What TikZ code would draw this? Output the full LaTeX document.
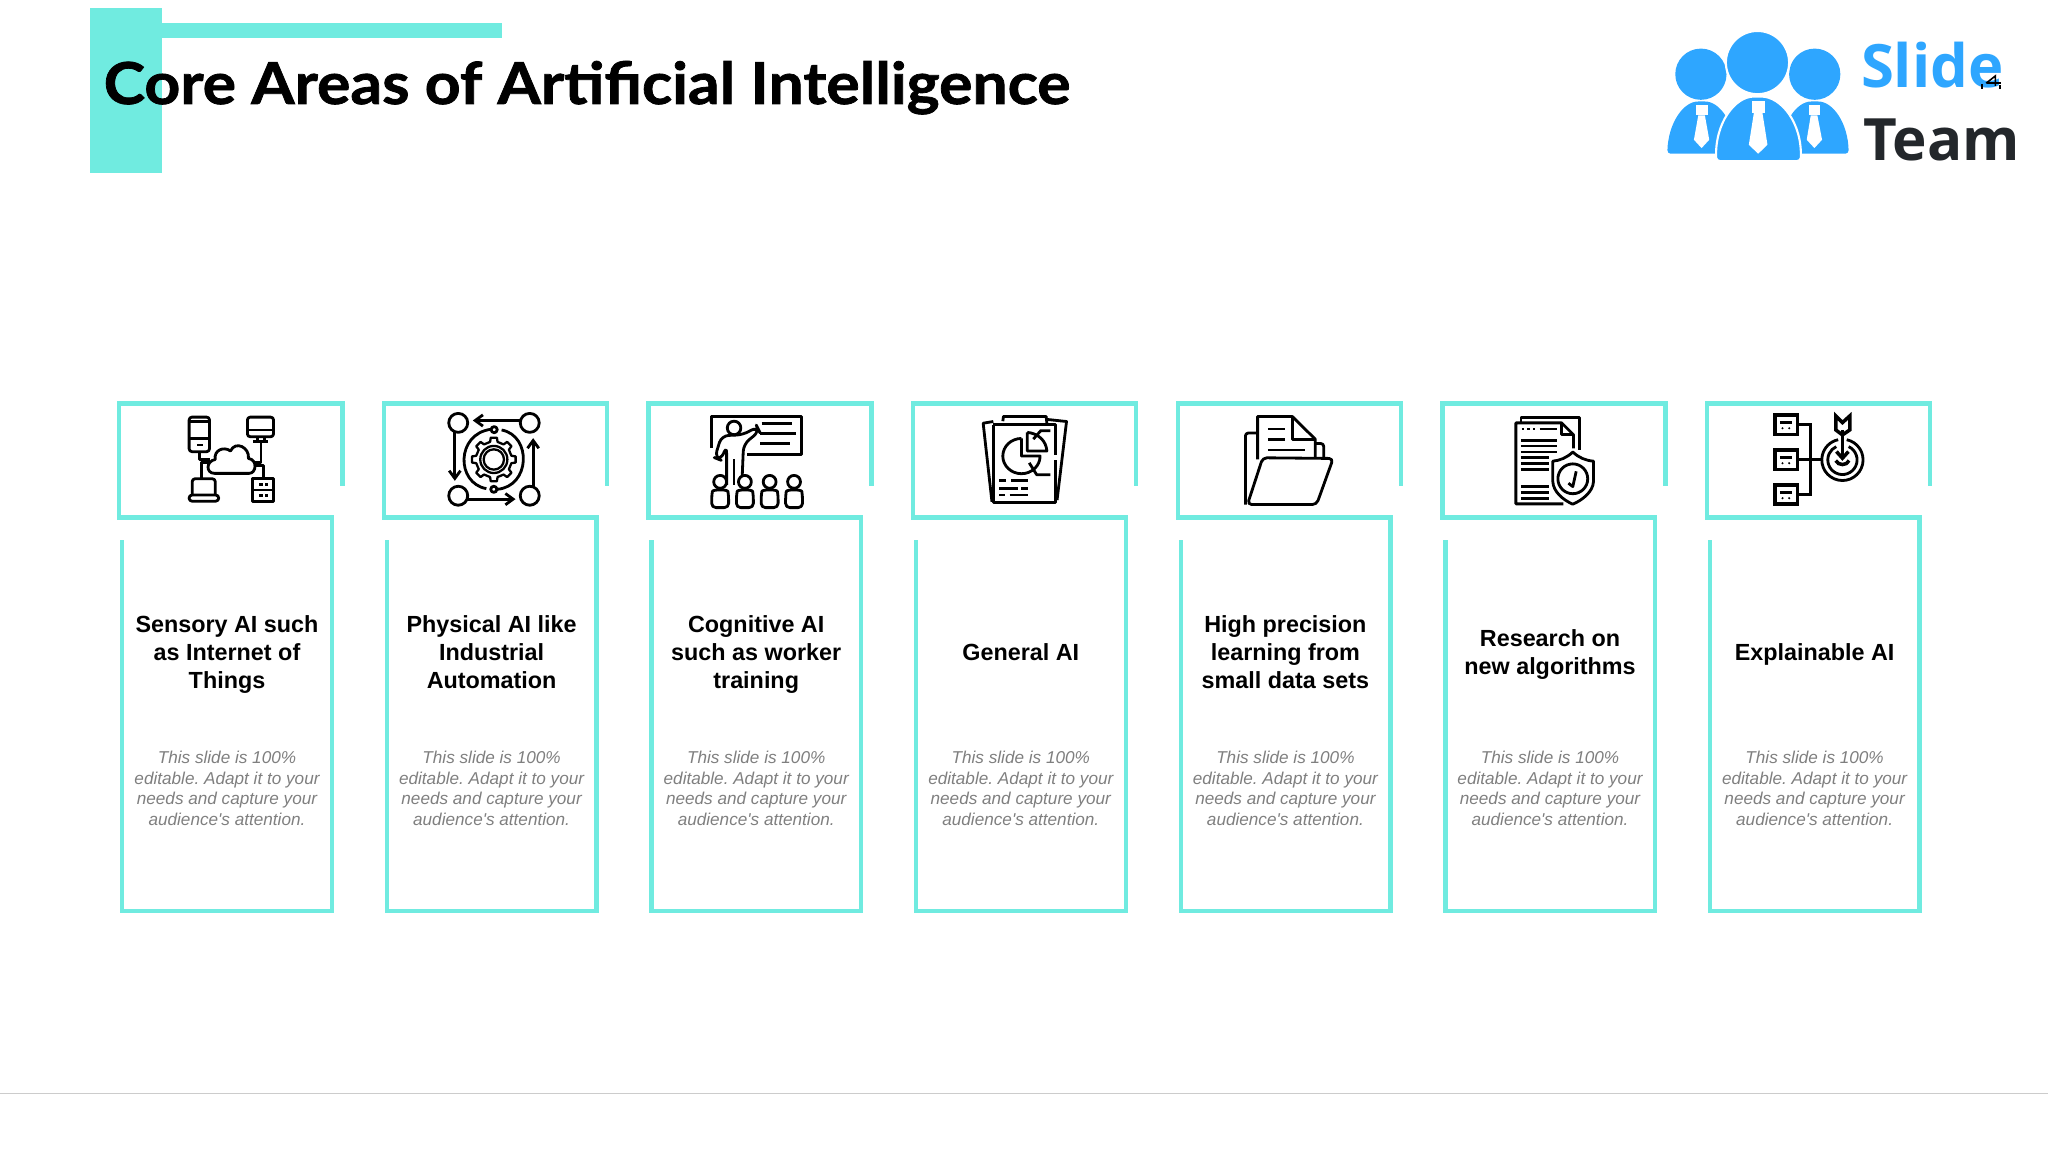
\documentclass[tikz,border=0pt]{standalone}
\usepackage{fontspec}
\usepackage{xcolor}
\usetikzlibrary{calc,arrows.meta,positioning}
\setmainfont{Liberation Sans}
\newfontfamily\bodyfont{Liberation Sans}
\newfontfamily\titlefont{Lato}[BoldFeatures={FakeBold=1.3,FakeStretch=1.08}]
\newfontfamily\logofont{Open Sans}
\definecolor{tealbar}{HTML}{70EBE0}
\definecolor{logoblue}{HTML}{2EA6FF}
\definecolor{logodark}{HTML}{23272B}
\definecolor{bodygrey}{HTML}{7F7F7F}
\tikzset{
  cardframe/.style={draw=tealbar,line width=1.25pt,miter limit=10},
  headtext/.style={align=center,inner sep=0pt,font=\fontsize{6.64}{8.05}\selectfont\bfseries},
  bodytext/.style={align=center,inner sep=0pt,text=bodygrey,font=\bodyfont\fontsize{4.88}{5.88}\selectfont\itshape\frenchspacing},
  iconzone/.style={x=0.00338cm,y=-0.00338cm,line width=0.8pt,line join=round},
  iconfine/.style={x=0.00333cm,y=-0.00333cm,line width=0.8pt,line join=miter},
  barb/.style={-{Straight Barb[length=2.2pt,width=3.2pt,line width=0.8pt]}}
}
\begin{document}
\begin{tikzpicture}[x=0.01cm,y=-0.01cm]
\useasboundingbox (0,0) rectangle (2048,1152);
% header
\fill[tealbar] (90,8) rectangle (162,173);
\fill[tealbar] (162,23) rectangle (502,38);
\node[anchor=base west,inner sep=0pt,font=\titlefont\fontsize{16.45}{18}\selectfont\bfseries] (title) at (103,104) {Core Areas of Artificial Intelligence};
\draw[black!20,line width=0.4pt] (0,1093.5) -- (2048,1093.5);

% cards
\foreach \n/\headtxt in {0/{Sensory AI such\\as Internet of\\Things},
                         1/{Physical AI like\\Industrial\\Automation},
                         2/{Cognitive AI\\such as worker\\training},
                         3/{General AI},
                         4/{High precision\\learning from\\small data sets},
                         5/{Research on\\new algorithms},
                         6/{Explainable AI}}{
  \begin{scope}[shift={({\n*264.6},0)}]
    \draw[cardframe] (342.4,486) -- (342.4,403.5) -- (119.3,403.5) -- (119.3,517.5) -- (332,517.5) -- (332,911) -- (122.3,911) -- (122.3,540.5);
    \node[headtext] (head\n) at (227,655) {\strut\headtxt\strut};
    \node[bodytext] (body\n) at (227,788.5) {This slide is 100\%\\editable. Adapt it to your\\needs and capture your\\audience's attention.};
  \end{scope}
}

% network icon
\begin{scope}[shift={(100,390)},iconzone]
\draw[rounded corners=0.8pt] (263,80) rectangle (323,182);
\draw (263,94) -- (323,94);
\draw (263,142) -- (323,142);
\fill (287,158) rectangle (303,165);
\draw[rounded corners=0.8pt] (435,80) rectangle (512,138);
\draw (435,118) -- (512,118);
\draw (465,138) -- (465,152);
\draw (485,138) -- (485,152);
\draw (452,152) -- (497,152);
\draw (338,246) -- (440,246) .. controls (462,246) and (465,205) .. (438,202) .. controls (442,170) and (400,148) .. (385,180) .. controls (365,165) and (335,178) .. (340,205) .. controls (312,210) and (312,246) .. (338,246) -- cycle;
\draw (293,182) -- (293,205) -- (325,205);
\draw (475,152) -- (475,215) -- (456,215);
\draw (322,215) -- (300,215) -- (300,262);
\draw[rounded corners=0.8pt] (272,310) -- (272,262) -- (340,262) -- (340,310);
\draw[rounded corners=0.8pt] (263,310) rectangle (350,328);
\draw (458,222) -- (482,222) -- (482,260);
\draw (450,260) rectangle (513,330);
\draw (450,295) -- (513,295);
\fill (468,275) rectangle (480,283);
\fill (486,275) rectangle (497,283);
\fill (468,308) rectangle (480,316);
\fill (486,308) rectangle (497,316);
\end{scope}

% gear icon
\begin{scope}[shift={(100,390)},iconzone]
\draw (1057,97) circle[radius=28];
\draw (1268,97) circle[radius=28];
\draw (1057,312) circle[radius=28];
\draw (1268,312) circle[radius=28];
\draw[barb] (1240,90) -- (1100,90);
\draw[barb] (1047,125) -- (1047,268);
\draw[barb] (1085,322) -- (1226,322);
\draw[barb] (1278,285) -- (1278,142);
\draw (1163,117) circle[radius=9];
\draw (1162,293) circle[radius=9];
\draw (1153,116) .. controls (1050,130) and (1050,275) .. (1140,291);
\draw (1185,118) .. controls (1275,135) and (1270,285) .. (1172,293);
\begin{scope}[shift={(1162,205)},line width=0.65pt]
\draw (0,0) circle[radius=40];
\draw (0,0) circle[radius=30];
\draw (-12:53) \foreach \a in {0,45,...,315}{ -- (\a-12:53) -- (\a-8:65) -- (\a+8:65) -- (\a+12:53)} -- cycle;
\end{scope}
\end{scope}

% teaching icon
\begin{scope}[shift={(630,390)},iconzone]
\draw (240,170) -- (240,77) -- (507,77) -- (507,190) -- (345,190);
\draw (388,100) -- (477,100);
\draw (385,128) -- (490,128);
\draw (385,157) -- (472,157);
\draw (307,112) circle[radius=20];
\draw[rounded corners=2pt] (285,280) -- (285,165) -- (268,207) -- (250,200) -- (270,135) -- (335,132) -- (375,108) -- (382,122) -- (335,160) -- (330,280);
\draw (307,205) -- (307,280);
\foreach \px in {266,339,412,484}{
  \draw[fill=white] (\px,271) circle[radius=19];
  \draw[fill=white,rounded corners=1.2pt] (\px-25,347) -- (\px-25,312) .. controls (\px-22,293) and (\px+22,293) .. (\px+25,312) -- (\px+25,347) -- cycle;
}
\end{scope}

% report icon
\begin{scope}[shift={(630,390)},iconzone]
\draw (1072,103) -- (1255,103) -- (1255,192);
\draw (1255,208) -- (1255,333) -- (1072,333) -- (1072,103);
\draw (1068,330) -- (1042,98) -- (1072,93);
\draw (1260,325) -- (1288,93) -- (1232,87);
\draw (1100,92) -- (1102,78) -- (1228,78) -- (1230,98);
\draw (1155,143) -- (1155,195) -- (1210,195) arc (0:270:55 and 52);
\draw (1172,125) -- (1172,180) -- (1230,180) .. controls (1228,150) and (1205,128) .. (1172,125);
\draw (1240,120) -- (1212,120) -- (1190,145);
\draw (1240,250) -- (1200,250) -- (1178,215);
\draw (1090,268) -- (1110,268);
\draw (1125,268) -- (1175,268);
\draw (1090,290) -- (1145,290);
\draw (1155,290) -- (1175,290);
\draw (1090,310) -- (1105,310);
\draw (1120,310) -- (1175,310);
\end{scope}

% folder icon
\begin{scope}[shift={(1160,390)},iconzone]
\draw[rounded corners=1.2pt] (258,338) -- (462,338) -- (511,202) -- (303,200) -- cycle;
\draw[rounded corners=0.8pt] (287,127) -- (252,127) -- (252,338);
\draw (288,205) -- (288,78) -- (390,78) -- (458,145) -- (458,198);
\draw (390,78) -- (390,145) -- (458,145);
\draw (318,115) -- (368,115);
\draw (318,145) -- (368,145);
\draw (318,177) -- (428,177);
\draw[rounded corners=0.8pt] (458,158) -- (483,158) -- (483,198);
\end{scope}

% secure document icon
\begin{scope}[shift={(1160,390)},iconzone]
\draw (1065,95) -- (1065,80) -- (1238,80) -- (1238,178);
\draw (1190,336) -- (1050,336) -- (1050,97) -- (1185,97) -- (1220,132) -- (1220,172);
\draw (1185,97) -- (1185,132) -- (1220,132);
\draw (1068,115) -- (1075,115);
\draw (1084,115) -- (1091,115);
\draw (1100,115) -- (1107,115);
\draw (1120,115) -- (1172,115);
\foreach \ly in {148,165,183}{\draw (1065,\ly) -- (1172,\ly);}
\foreach \ly in {200,217,234,285,302,319}{\draw (1065,\ly) -- (1147,\ly);}
\draw[fill=white] (1218,183) .. controls (1200,200) and (1180,208) .. (1159,210) -- (1159,270) .. controls (1160,300) and (1190,325) .. (1218,337) .. controls (1246,325) and (1278,300) .. (1279,270) -- (1279,210) .. controls (1256,208) and (1236,200) .. (1218,183) -- cycle;
\draw (1218,262) circle[radius=44];
\draw (1205,275) -- (1218,285) -- (1228,240);
\end{scope}

% target icon
\begin{scope}[shift={(1690,390)},iconfine]
\foreach \by in {75,180,285}{
  \draw[line width=0.95pt,line join=miter] (255,\by) rectangle (322,\by+58);
  \draw (270,\by+23) -- (305,\by+23);
  \fill (278,\by+40) circle[radius=3.5];
  \fill (298,\by+40) circle[radius=3.5];
}
\draw (322,103) -- (362,103) -- (362,315) -- (322,315);
\draw (322,210) -- (395,210);
\begin{scope}[shift={(458,210)}]
\draw (-78:62) arc (-78:258:62);
\draw (-65:44) arc (-65:245:44);
\end{scope}
\draw (458,120) -- (458,205);
\draw[line width=1pt] (440,185) -- (458,205) -- (476,185);
\draw[line width=1pt] (438,212) .. controls (445,228) and (471,228) .. (478,212);
\draw[line width=1pt] (438,78) -- (438,120) -- (458,135) -- (480,120) -- (480,78) -- (458,98) -- cycle;
\end{scope}

% logo
\begin{scope}[shift={(1640,0)},x=0.00333cm,y=-0.00333cm]
\fill[logoblue,rounded corners=1pt] (82,462) .. controls (85,370) and (130,305) .. (185,305) .. controls (240,305) and (285,370) .. (285,462) -- cycle;
\fill[logoblue,rounded corners=1pt] (425,462) .. controls (425,370) and (470,305) .. (525,305) .. controls (580,305) and (625,370) .. (627,462) -- cycle;
\fill[logoblue] (183,223) circle[radius=77];
\fill[logoblue] (525,223) circle[radius=77];
\draw[white,line width=0.6pt,fill=logoblue] (353,188) circle[radius=95];
\draw[white,line width=0.6pt,fill=logoblue,rounded corners=1pt] (229,484) .. controls (225,370) and (285,290) .. (353,290) .. controls (425,290) and (487,370) .. (483,484) -- cycle;
\fill[white] (167,317) rectangle (203,347);
\fill[white] (175,347) -- (195,347) -- (208,420) -- (185,445) -- (162,420) -- cycle;
\fill[white] (507,317) rectangle (540,347);
\fill[white] (513,347) -- (533,347) -- (547,420) -- (524,445) -- (501,420) -- cycle;
\fill[white] (335,305) rectangle (375,340);
\fill[white] (342,340) -- (368,340) -- (383,435) -- (355,462) -- (327,435) -- cycle;
\node[anchor=base west,inner sep=0pt,text=logoblue,font=\logofont\fontsize{17}{20}\selectfont\bfseries] (slide) at (662,262) {Slide};
\node[anchor=base west,inner sep=0pt,text=logodark,font=\logofont\fontsize{16.6}{20}\selectfont\bfseries] (team) at (668,482) {Team};
\draw[line width=0.45pt] (1028,266) -- (1028,252);
\draw[line width=0.45pt] (1040,250) -- (1068,228) -- (1068,258);
\draw[line width=0.45pt] (1042,250) -- (1085,250);
\draw[line width=0.45pt] (1082,266) -- (1082,256);
\end{scope}
\end{tikzpicture}
\end{document}
